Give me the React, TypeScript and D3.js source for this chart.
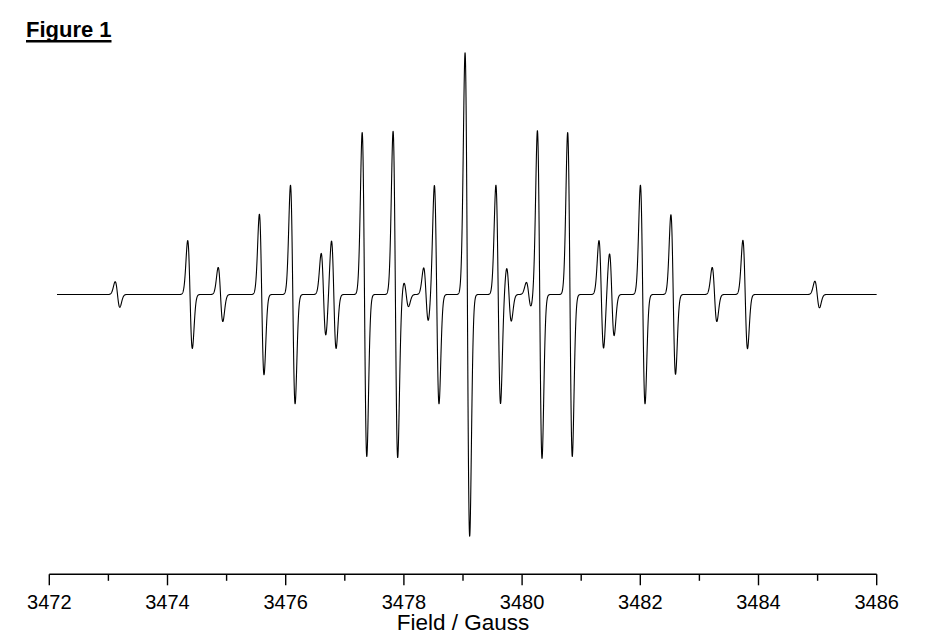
import React from "react";
import * as d3 from "d3";

// EPR line positions (Gauss) and relative derivative amplitudes (% of central line)
const lineCenters = [
  3473.154, 3474.381, 3474.897, 3475.594, 3476.12, 3476.64, 3476.814, 3477.333,
  3477.856, 3478.039, 3478.374, 3478.555, 3479.074, 3479.596, 3479.778, 3480.112,
  3480.298, 3480.81, 3481.34, 3481.518, 3482.041, 3482.557, 3483.256, 3483.775,
  3484.993,
];
const lineAmplitudes = [
  5.3, 22.3, 11.2, 33.2, 45.2, 17, 22.3, 67, 67.5, 5, 11, 45.2, 100, 45.2, 11, 5,
  67.8, 67, 22.3, 17, 45.2, 33, 11.2, 22.4, 5.5,
];
const lineWidthSigma = 0.039; // Gauss
const fieldRange = [3472.13, 3486.0];
const majorTicks = [3472, 3474, 3476, 3478, 3480, 3482, 3484, 3486];
const minorTicks = [3473, 3475, 3477, 3479, 3481, 3483, 3485];
const xLabel = "Field / Gauss";
const title = "Figure 1";

const W = 926;
const H = 643;

export default function App() {
  const x = d3.scaleLinear().domain([3472, 3486]).range([49.3, 876.7]);
  const y = d3.scaleLinear().domain([-100, 100]).range([536.2, 52.8]);

  const signal = (f: number) => {
    let s = 0;
    for (let i = 0; i < lineCenters.length; i++) {
      const u = (f - lineCenters[i]) / lineWidthSigma;
      if (Math.abs(u) < 12) s += lineAmplitudes[i] * -u * Math.exp(0.5 - (u * u) / 2);
    }
    return s;
  };

  const pts: [number, number][] = [];
  const step = 0.0015;
  for (let f = fieldRange[0]; f <= fieldRange[1] + 1e-9; f += step) {
    pts.push([f, signal(f)]);
  }
  const line = d3
    .line<[number, number]>()
    .x((d) => x(d[0]))
    .y((d) => y(d[1]));

  const axisY = 574.3;
  const font = "'Liberation Sans', Arial, sans-serif";

  return (
    <svg
      width={W}
      height={H}
      style={{ position: "absolute", left: 0, top: 0, display: "block", background: "#fff" }}
    >
      <rect width={W} height={H} fill="#fff" />
      <text x={26} y={37.3} fontFamily={font} fontWeight="bold" fontSize={22} fill="#000">
        {title}
      </text>
      <line x1={26} x2={111.5} y1={41.2} y2={41.2} stroke="#000" strokeWidth={2.6} />

      <path d={line(pts) || ""} fill="none" stroke="#000" strokeWidth={1.1} strokeLinejoin="round" />

      <line x1={x(3472)} x2={x(3486)} y1={axisY} y2={axisY} stroke="#000" strokeWidth={1.6} />
      {majorTicks.map((t) => (
        <g key={"M" + t}>
          <line x1={x(t)} x2={x(t)} y1={axisY} y2={axisY + 11} stroke="#000" strokeWidth={1.4} />
          <text
            x={x(t)}
            y={609.3}
            textAnchor="middle"
            fontFamily={font}
            fontSize={20}
            fill="#000"
          >
            {t}
          </text>
        </g>
      ))}
      {minorTicks.map((t) => (
        <line key={"m" + t} x1={x(t)} x2={x(t)} y1={axisY} y2={axisY + 6.5} stroke="#000" strokeWidth={1.4} />
      ))}
      <text x={463} y={630} textAnchor="middle" fontFamily={font} fontSize={22.5} fill="#000">
        {xLabel}
      </text>
    </svg>
  );
}
